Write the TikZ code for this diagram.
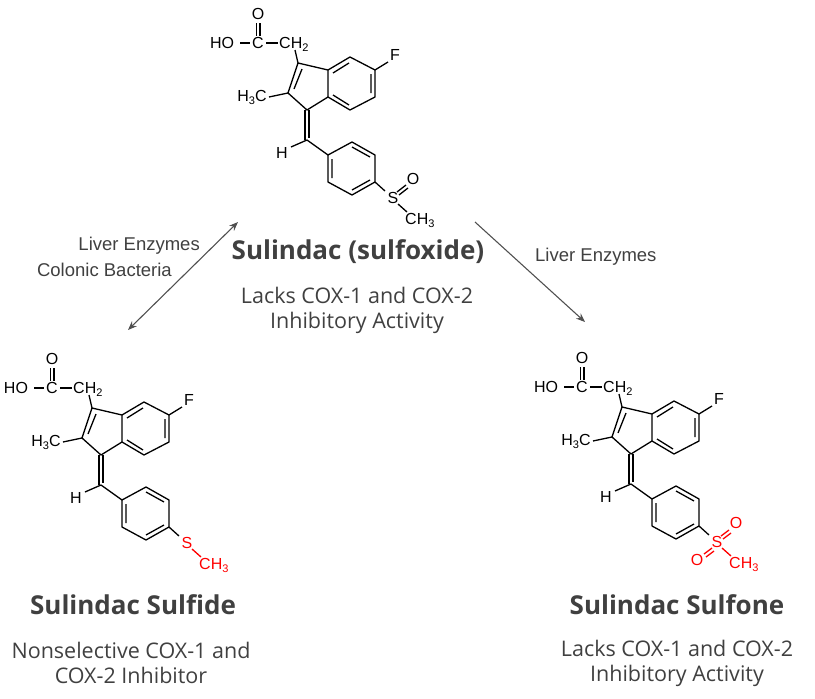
\documentclass[tikz,border=0pt]{standalone}
\usepackage{fontspec}
\setmainfont{Liberation Sans}
\newfontfamily\titlefont{Open Sans}
\usetikzlibrary{arrows.meta}
\definecolor{txt}{HTML}{404040}
\definecolor{arr}{HTML}{505050}
\newcommand\sbs[1]{\raisebox{-0.35ex}{\fontsize{11}{11}\selectfont #1}}
\tikzset{
 atom/.style={inner sep=0pt,font=\fontsize{16}{16}\selectfont},
 bond/.style={line width=1.3pt,black,line join=round},
 ttl/.style={font=\titlefont\bfseries\fontsize{26}{26}\selectfont,text=txt},
 dsc/.style={font=\titlefont\fontsize{21.5}{25}\selectfont,text=txt,align=center},
 lbl/.style={font=\fontsize{18.5}{18.5}\selectfont,text=txt,inner sep=0pt},
 rxn/.style={line width=1.1pt,arr,-{Stealth[length=9pt,width=7pt]}}
}
\newcommand\indene{%
 \node[atom] at (222,43) {HO};
 \node[atom] at (258,43) {C};
 \node[atom] at (258,14) {O};
 \node[atom,anchor=west] at (279,44) {CH\sbs{2}};
 \node[atom] at (252,97) {H\sbs{3}C};
 \node[atom] at (395,55) {F};
 \node[atom] at (282,153) {H};
 \draw[bond] (240,43)--(250,43) (266,43)--(278,43);
 \draw[bond] (256.5,23)--(256.5,36) (260,23)--(260,36);
 \draw[bond] (295,50)--(298,63);
 \draw[bond] (298,63)--(328,70)--(328,97)--(307,110)--(288,93)--(298,63);
 \draw[bond] (302,69)--(294,89);
 \draw[bond] (288,93)--(269,97);
 \draw[bond] (328,70)--(350,57)--(375,70)--(375,97)--(350,110)--(328,97);
 \draw[bond] (333,73)--(349,63) (371,74)--(371,93) (349,105)--(333,95);
 \draw[bond] (375,70)--(388,62);
 \draw[bond] (305,110)--(305,140) (309,110)--(309,138);
 \draw[bond] (307,140)--(291,147);
 \draw[bond] (307,140)--(328,155);
 \draw[bond] (328,155)--(352,142)--(375,155)--(375,182)--(352,195)--(328,182)--(328,155);
 \draw[bond] (352,147)--(370,157) (370,180)--(352,190) (332,178)--(332,159);
 \draw[bond] (375,182)--(385,191);
}
\begin{document}
\begin{tikzpicture}[x=1pt,y=-1pt]
\useasboundingbox (0,0) rectangle (815,699);
% top
\begin{scope}
 \indene
 \node[atom] at (393,198) {S};
 \node[atom] at (413,179) {O};
 \node[atom,anchor=west] at (405,220) {CH\sbs{3}};
 \draw[bond] (397,192)--(406,185) (399,195)--(408,188);
 \draw[bond] (398,204)--(407,212);
\end{scope}
% left
\begin{scope}[shift={(-206,345)}]
 \indene
 \node[atom,red] at (393,198) {S};
 \node[atom,anchor=west,red] at (405,220) {CH\sbs{3}};
 \draw[bond,red] (398,204)--(407,212);
\end{scope}
% right
\begin{scope}[shift={(324,344)}]
 \indene
 \node[atom,red] at (393,198) {S};
 \node[atom,red] at (412,179) {O};
 \node[atom,red] at (373,216) {O};
 \node[atom,anchor=west,red] at (405,220) {CH\sbs{3}};
 \draw[bond,red] (397,192)--(405,186) (399,195)--(407,189);
 \draw[bond,red] (380,210)--(388,204) (382,213)--(390,207);
 \draw[bond,red] (398,204)--(407,212);
\end{scope}
% texts
\node[ttl] (t0) at (358,252) {Sulindac (sulfoxide)};
\node[dsc] (d0) at (357,310) {Lacks COX-1 and COX-2\\Inhibitory Activity};
\node[ttl] (t1) at (133,605) {Sulindac Sulfide};
\node[dsc] (d1) at (131,663) {Nonselective COX-1 and\\COX-2 Inhibitor};
\node[ttl] (t2) at (677,605) {Sulindac Sulfone};
\node[dsc] (d2) at (677,663) {Lacks COX-1 and COX-2\\Inhibitory Activity};
\node[lbl,anchor=east] (l1) at (200,246) {Liver Enzymes};
\node[lbl,anchor=east] (l2) at (172,270) {Colonic Bacteria};
\node[lbl,anchor=west] (l3) at (535,257) {Liver Enzymes};
\coordinate (a1) at (238,222); \coordinate (a2) at (128,330);
\coordinate (b1) at (475,222); \coordinate (b2) at (585,322);
\draw[rxn,{Stealth[length=9pt,width=7pt]}-{Stealth[length=9pt,width=7pt]}] (a1)--(a2);
\draw[rxn] (b1)--(b2);
\end{tikzpicture}
\end{document}
